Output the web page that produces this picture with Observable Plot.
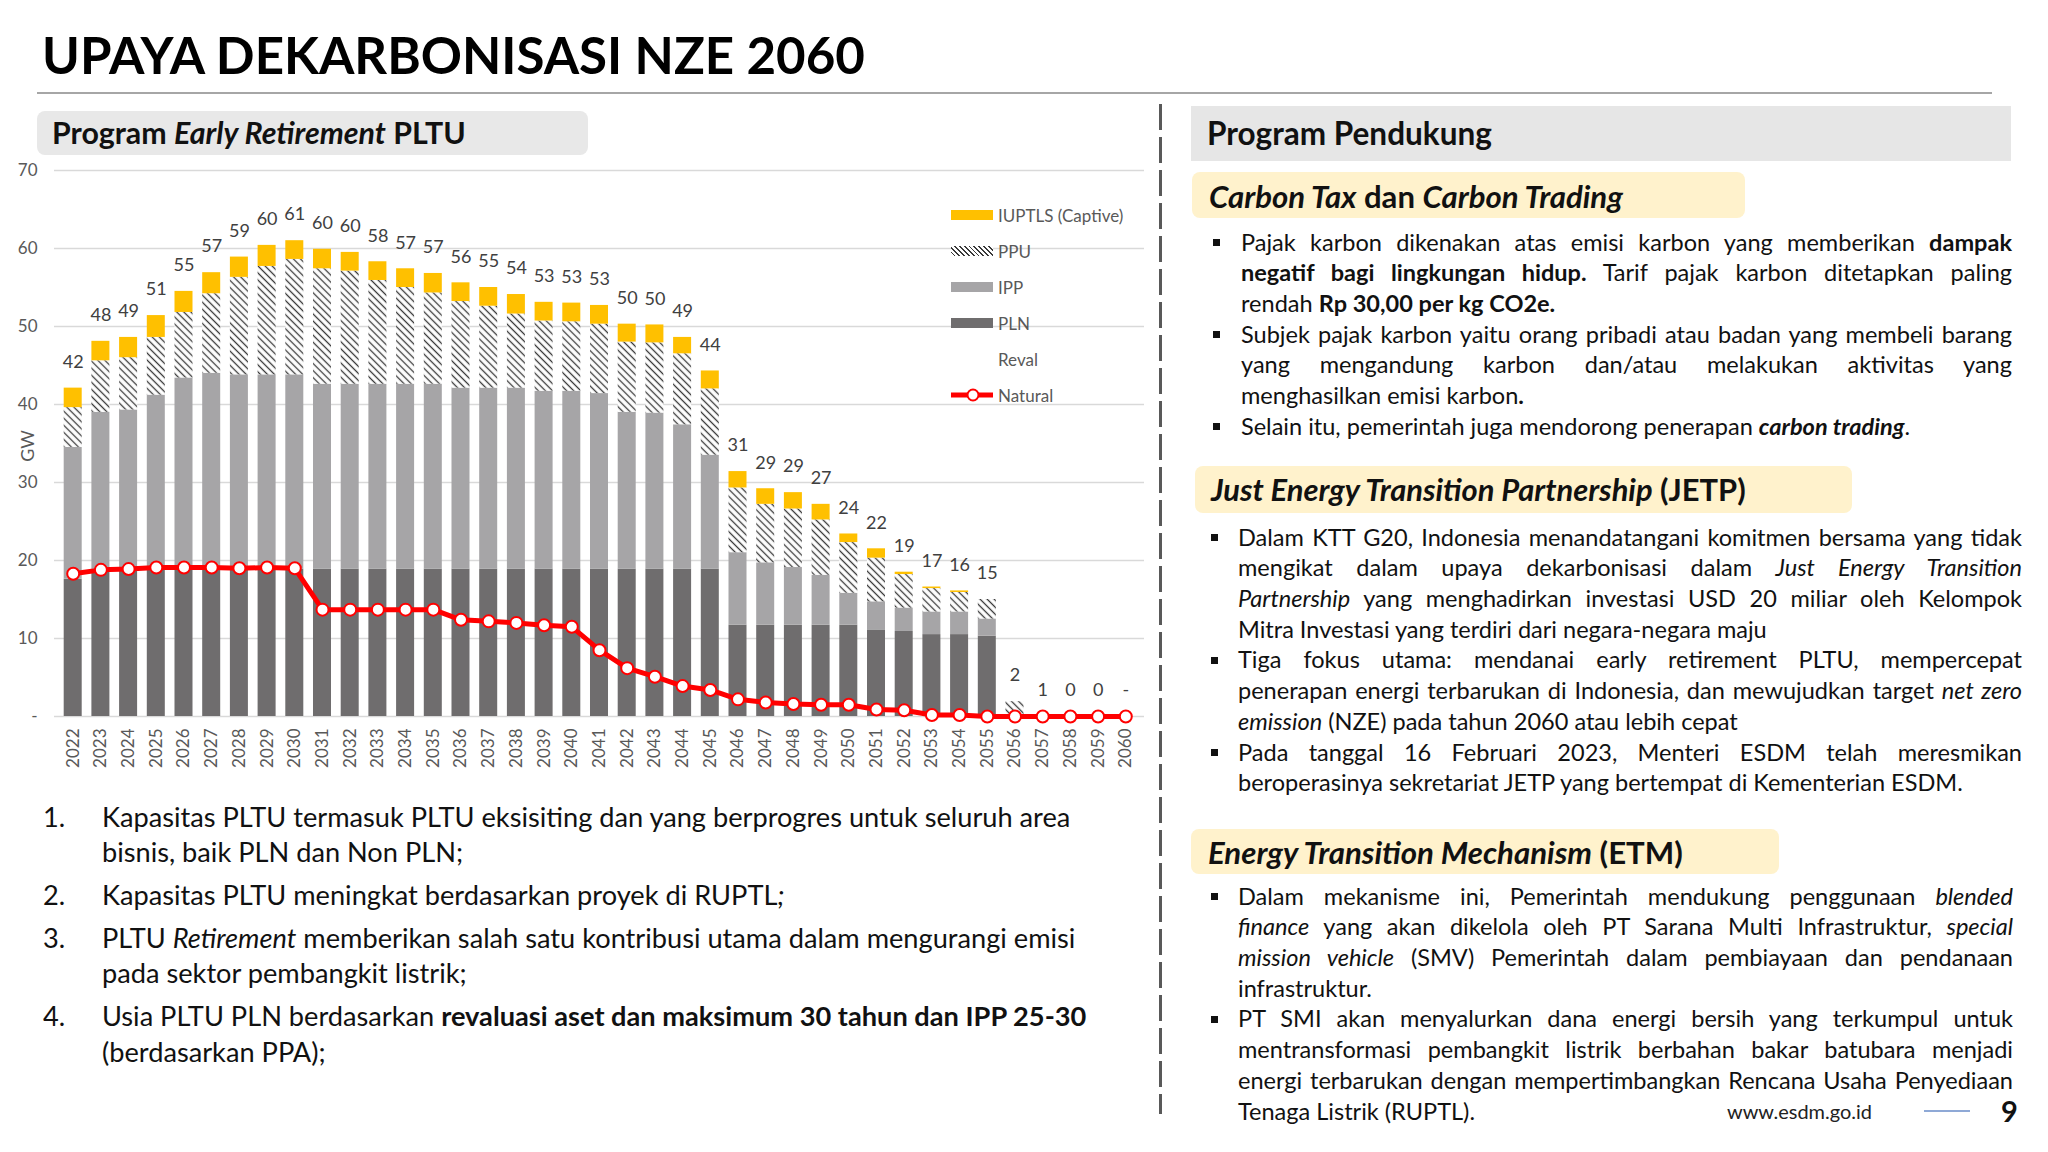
<!DOCTYPE html>
<html><head><meta charset="utf-8">
<script src="https://cdn.jsdelivr.net/npm/d3@7"></script>
<script src="https://cdn.jsdelivr.net/npm/@observablehq/plot@0.6"></script>
<style>
html,body{margin:0;padding:0;background:#fff;}
#page{position:relative;width:2048px;height:1152px;overflow:hidden;font-family:Lato,"Open Sans",sans-serif;color:#111;}
</style></head><body><div id="page"></div>
<script>
// ---------- DATA ----------
const years = ["2022","2023","2024","2025","2026","2027","2028","2029","2030","2031","2032","2033","2034","2035","2036","2037","2038","2039","2040","2041","2042","2043","2044","2045","2046","2047","2048","2049","2050","2051","2052","2053","2054","2055","2056","2057","2058","2059","2060"];
const seriesNames = ["PLN","IPP","PPU","IUPTLS (Captive)"];
const pln = [17.6,18.9,18.9,18.9,18.9,18.9,18.9,18.9,18.9,18.9,18.9,18.9,18.9,18.9,18.9,18.9,18.9,18.9,18.9,18.9,18.9,18.9,18.9,18.9,11.7,11.7,11.7,11.7,11.7,11.1,10.9,10.5,10.5,10.3,0,0,0,0,0];
const ipp = [16.9,20.1,20.4,22.3,24.5,25.1,24.9,24.9,24.9,23.7,23.7,23.7,23.7,23.7,23.2,23.2,23.2,22.8,22.8,22.5,20.1,20.0,18.5,14.6,9.3,8.0,7.4,6.4,4.1,3.6,3.0,2.9,2.9,2.2,0,0,0,0,0];
const ppu = [5.1,6.6,6.7,7.4,8.4,10.2,12.5,13.9,14.8,14.8,14.5,13.3,12.4,11.7,11.1,10.5,9.5,9.0,8.9,8.9,9.0,9.0,9.1,8.5,8.3,7.5,7.5,7.1,6.5,5.6,4.3,3.0,2.5,2.5,1.9,0,0,0,0];
const iuptls = [2.5,2.5,2.6,2.8,2.7,2.7,2.6,2.7,2.4,2.5,2.4,2.4,2.4,2.5,2.4,2.4,2.5,2.4,2.4,2.4,2.3,2.3,2.1,2.3,2.1,2.0,2.1,2.0,1.1,1.2,0.3,0.2,0.2,0,0,0,0,0,0];
const natural = [18.3,18.8,18.9,19.1,19.1,19.1,19.0,19.1,19.0,13.7,13.7,13.7,13.7,13.7,12.4,12.2,12.0,11.7,11.5,8.5,6.2,5.1,3.9,3.4,2.2,1.8,1.6,1.5,1.5,0.9,0.8,0.2,0.2,0,0,0,0,0,0];
const totalLabels = [42,48,49,51,55,57,59,60,61,60,60,58,57,57,56,55,54,53,53,53,50,50,49,44,31,29,29,27,24,22,19,17,16,15,2,1,0,0,null];
const yTicks = [0,10,20,30,40,50,60,70];
const legendLabels = ["IUPTLS (Captive)","PPU","IPP","PLN","Reval","Natural"];

// ---------- STYLES ----------
const seriesColors = ["#6f6d6e","#a6a5a7","url(#hatch)","#ffc000"];
const page = document.getElementById("page");

function el(tag, css, html) {
  const e = document.createElement(tag);
  e.style.cssText = css;
  if (html != null) e.innerHTML = html;
  page.appendChild(e);
  return e;
}
function measure(html, font) {
  const s = el("span", `position:absolute;visibility:hidden;white-space:nowrap;font:${font};`, html);
  const w = s.getBoundingClientRect().width;
  s.remove();
  return w;
}
function fitSize(html, weight, targetW, style = "normal") {
  const w = measure(html, `${style} ${weight} 100px Lato`);
  return 100 * targetW / w;
}

// ---------- CHART ----------
const rows = years.flatMap((yr, i) => [
  {year: yr, series: "PLN", value: pln[i]},
  {year: yr, series: "IPP", value: ipp[i]},
  {year: yr, series: "PPU", value: ppu[i]},
  {year: yr, series: "IUPTLS (Captive)", value: iuptls[i]}
]);
const stackTop = years.map((_, i) => pln[i] + ipp[i] + ppu[i] + iuptls[i]);

const chart = Plot.plot({
  width: 1150, height: 616,
  marginTop: 10, marginBottom: 60, marginLeft: 54, marginRight: 6,
  style: {fontFamily: "Lato, sans-serif", fontSize: "17px", color: "#595959", background: "transparent"},
  x: {type: "band", domain: years, paddingInner: 0.35, paddingOuter: 0.35, round: false, label: null},
  y: {domain: [0, 70], label: null},
  color: {domain: seriesNames, range: seriesColors},
  marks: [
    Plot.ruleY(yTicks, {stroke: "#d9d9d9", strokeWidth: 1.5}),
    Plot.barY(rows, {x: "year", y: "value", fill: "series", order: seriesNames}),
    Plot.line(years, {x: d => d, y: (d, i) => natural[i], stroke: "#ff0000", strokeWidth: 5}),
    Plot.dot(years, {x: d => d, y: (d, i) => natural[i], r: 6, fill: "#ffffff", stroke: "#ff0000", strokeWidth: 2}),
    Plot.text(years, {x: d => d, y: (d, i) => stackTop[i], text: (d, i) => totalLabels[i] == null ? "-" : String(totalLabels[i]), dy: -26, fill: "#404040", fontSize: 18}),
    Plot.axisX({tickRotate: -90, tickSize: 0, tickPadding: 12, fontSize: 17, label: null, fill: "#595959"}),
    Plot.axisY({ticks: yTicks, tickSize: 0, tickPadding: 17, fontSize: 17, tickFormat: d => d === 0 ? "-" : String(d), label: null, fill: "#595959"})
  ]
});
const defs = document.createElementNS("http://www.w3.org/2000/svg", "defs");
defs.innerHTML = '<pattern id="hatch" patternUnits="userSpaceOnUse" width="5" height="5" patternTransform="rotate(-45)"><rect width="5" height="5" fill="#ffffff"/><line x1="2.5" y1="0" x2="2.5" y2="5" stroke="#3a3a3a" stroke-width="1.3"/></pattern>';
chart.insertBefore(defs, chart.firstChild);
chart.style.position = "absolute";
chart.style.left = "0px";
chart.style.top = "160px";
page.appendChild(chart);

// GW label
el("div", "position:absolute;left:27px;top:446px;transform:translate(-50%,-50%) rotate(-90deg);font:400 18px Lato;color:#595959;", "GW");

// Legend
const legendY = [215, 251, 287, 323, 359, 395];
const legendSwatch = [
  '<div style="width:42px;height:10px;background:#ffc000"></div>',
  '<div style="width:42px;height:10px;background:repeating-linear-gradient(45deg,#fff 0 2.2px,#3a3a3a 2.2px 3.4px)"></div>',
  '<div style="width:42px;height:10px;background:#a6a5a7"></div>',
  '<div style="width:42px;height:10px;background:#6f6d6e"></div>',
  '',
  '<svg width="44" height="14"><line x1="0" y1="7" x2="44" y2="7" stroke="#ff0000" stroke-width="5"/><circle cx="22" cy="7" r="5.5" fill="#fff" stroke="#ff0000" stroke-width="2"/></svg>'
];
legendLabels.forEach((lab, i) => {
  const row = el("div", `position:absolute;left:951px;top:${legendY[i] - 10}px;height:20px;display:flex;align-items:center;font:400 17px Lato;color:#595959;`);
  row.innerHTML = `<div style="width:42px;display:flex;align-items:center;justify-content:center">${legendSwatch[i]}</div><div style="margin-left:5px">${lab}</div>`;
});

// ---------- SLIDE TEXT ----------
const titleHtml = "UPAYA DEKARBONISASI NZE 2060";
const tSize = fitSize(titleHtml, 700, 823);
el("div", `position:absolute;left:42px;top:${55 - tSize * 0.62}px;font:700 ${tSize}px Lato;line-height:${tSize * 1.24}px;color:#000;white-space:nowrap;`, titleHtml);
el("div", "position:absolute;left:37px;top:92px;width:1955px;height:2px;background:#a6a6a6;");

el("div", "position:absolute;left:1159px;top:104px;width:3px;height:1010px;background:repeating-linear-gradient(180deg,#595959 0 26px,transparent 26px 33px);");

function headerBox(x, y, w, h, bg, radius) {
  el("div", `position:absolute;left:${x}px;top:${y}px;width:${w}px;height:${h}px;background:${bg};border-radius:${radius}px;`);
}
function headerText(html, x, cy, targetW) {
  const fs = fitSize(html, 700, targetW);
  el("div", `position:absolute;left:${x}px;top:${cy - fs * 0.62}px;font:700 ${fs}px Lato;line-height:${fs * 1.24}px;color:#111;white-space:nowrap;`, html);
}
headerBox(37, 111, 551, 44, "#e8e8e8", 8);
headerText("Program <i>Early Retirement</i> PLTU", 52, 133, 414);
headerBox(1191, 106, 820, 55, "#e6e6e6", 0);
headerText("Program Pendukung", 1207, 134, 285);
headerBox(1192, 172, 553, 46, "#fff2cc", 8);
headerText("<i>Carbon Tax</i> dan <i>Carbon Trading</i>", 1209, 196, 414);
headerBox(1195, 466, 657, 47, "#fff2cc", 8);
headerText("<i>Just Energy Transition Partnership</i> (JETP)", 1211, 490, 535);
headerBox(1191, 829, 588, 45, "#fff2cc", 8);
headerText("<i>Energy Transition Mechanism</i> (ETM)", 1208, 852, 475);

const bodySize = fitSize("beroperasinya sekretariat JETP yang bertempat di Kementerian ESDM.", 400, 725);
const LH = 30.7;
function addLine(html, x, cy, w, fs, justify, weight = 400) {
  const d = el("div", `position:absolute;left:${x}px;top:${cy - LH / 2}px;height:${LH}px;line-height:${LH}px;font:${weight} ${fs}px Lato;color:#111;white-space:nowrap;`);
  const s = document.createElement("span");
  s.style.cssText = "display:inline-block;white-space:nowrap;";
  s.innerHTML = html;
  d.appendChild(s);
  if (justify) {
    const nat = s.getBoundingClientRect().width;
    const spaces = (s.textContent.match(/ /g) || []).length;
    if (spaces > 0) s.style.wordSpacing = ((w - nat) / spaces) + "px";
  }
}
function section(lines, x, w, startCy, bulletX) {
  lines.forEach((ln, i) => {
    const cy = startCy + i * LH;
    if (ln[1]) el("div", `position:absolute;left:${bulletX}px;top:${cy - 4}px;width:7px;height:7px;background:#111;`);
    addLine(ln[0], x, cy, w, bodySize, ln[2]);
  });
}
section([
  ["Pajak karbon dikenakan atas emisi karbon yang memberikan <b>dampak</b>", true, true],
  ["<b>negatif bagi lingkungan hidup.</b> Tarif pajak karbon ditetapkan paling", false, true],
  ["rendah <b>Rp 30,00 per kg CO2e.</b>", false, false],
  ["Subjek pajak karbon yaitu orang pribadi atau badan yang membeli barang", true, true],
  ["yang mengandung karbon dan/atau melakukan aktivitas yang", false, true],
  ["menghasilkan emisi karbon<b>.</b>", false, false],
  ["Selain itu, pemerintah juga mendorong penerapan <b><i>carbon trading</i></b>.", true, false]
], 1241, 771, 243, 1213);
section([
  ["Dalam KTT G20, Indonesia menandatangani komitmen bersama yang tidak", true, true],
  ["mengikat dalam upaya dekarbonisasi dalam <i>Just Energy Transition</i>", false, true],
  ["<i>Partnership</i> yang menghadirkan investasi USD 20 miliar oleh Kelompok", false, true],
  ["Mitra Investasi yang terdiri dari negara-negara maju", false, false],
  ["Tiga fokus utama: mendanai early retirement PLTU, mempercepat", true, true],
  ["penerapan energi terbarukan di Indonesia, dan mewujudkan target <i>net zero</i>", false, true],
  ["<i>emission</i> (NZE) pada tahun 2060 atau lebih cepat", false, false],
  ["Pada tanggal 16 Februari 2023, Menteri ESDM telah meresmikan", true, true],
  ["beroperasinya sekretariat JETP yang bertempat di Kementerian ESDM.", false, false]
], 1238, 784, 538, 1211);
section([
  ["Dalam mekanisme ini, Pemerintah mendukung penggunaan <i>blended</i>", true, true],
  ["<i>finance</i> yang akan dikelola oleh PT Sarana Multi Infrastruktur, <i>special</i>", false, true],
  ["<i>mission vehicle</i> (SMV) Pemerintah dalam pembiayaan dan pendanaan", false, true],
  ["infrastruktur.", false, false],
  ["PT SMI akan menyalurkan dana energi bersih yang terkumpul untuk", true, true],
  ["mentransformasi pembangkit listrik berbahan bakar batubara menjadi", false, true],
  ["energi terbarukan dengan mempertimbangkan Rencana Usaha Penyediaan", false, true],
  ["Tenaga Listrik (RUPTL).", false, false]
], 1238, 775, 897, 1211);

// Footer
const footSize = fitSize("www.esdm.go.id", 400, 145);
el("div", `position:absolute;left:1727px;top:${1111 - 15}px;font:400 ${footSize}px Lato;line-height:30px;color:#222;`, "www.esdm.go.id");
el("div", "position:absolute;left:1924px;top:1110px;width:46px;height:2px;background:#8fa9d6;");
el("div", "position:absolute;left:2001px;top:1093px;font:700 29px Lato;line-height:36px;color:#111;", "9");

// Left numbered list
const listSize = fitSize("Kapasitas PLTU meningkat berdasarkan proyek di RUPTL<i>;</i>", 400, 683);
const listLines = [
  ["1.", "Kapasitas PLTU termasuk PLTU eksisiting dan yang berprogres untuk seluruh area", 817.6],
  ["", "bisnis, baik PLN dan Non PLN;", 852.9],
  ["2.", "Kapasitas PLTU meningkat berdasarkan proyek di RUPTL<i>;</i>", 895.9],
  ["3.", "PLTU <i>Retirement</i> memberikan salah satu kontribusi utama dalam mengurangi emisi", 938.9],
  ["", "pada sektor pembangkit listrik;", 974.2],
  ["4.", "Usia PLTU PLN berdasarkan <b>revaluasi aset dan maksimum 30 tahun dan IPP 25-30</b>", 1017.2],
  ["", "(berdasarkan PPA);", 1052.5]
];
listLines.forEach(([num, html, cy]) => {
  if (num) el("div", `position:absolute;left:43px;top:${cy - 18}px;height:36px;line-height:36px;font:400 ${listSize}px Lato;color:#111;`, num);
  el("div", `position:absolute;left:102px;top:${cy - 18}px;height:36px;line-height:36px;font:400 ${listSize}px Lato;color:#111;white-space:nowrap;`, html);
});
</script></body></html>
